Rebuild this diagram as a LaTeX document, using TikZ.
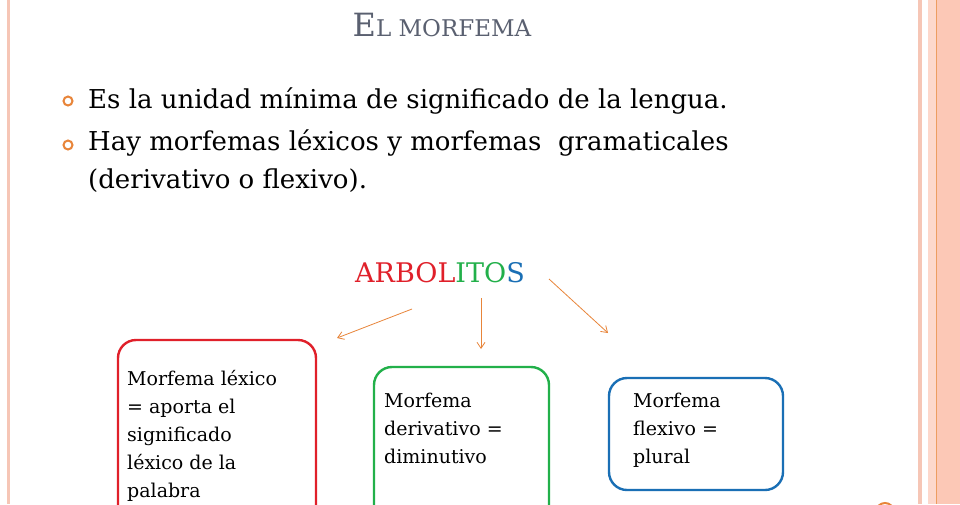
\documentclass[tikz,border=0pt]{standalone}
\usetikzlibrary{arrows.meta}
\usepackage{fontspec}
\setmainfont{DejaVu Serif}
\definecolor{pinkA}{HTML}{F6C6B6}
\definecolor{pinkB}{HTML}{FCC8B6}
\definecolor{orng}{HTML}{E8853A}
\definecolor{ttl}{HTML}{5A6070}
\definecolor{rd}{HTML}{E0202A}
\definecolor{gr}{HTML}{22B04A}
\definecolor{bl}{HTML}{1A6FB5}
\begin{document}
\begin{tikzpicture}[x=1pt,y=-1pt,
  box/.style={rounded corners=18pt,line width=2.4pt},
  btxt/.style={anchor=north west,align=left,font=\fontsize{19}{28}\selectfont,inner sep=0pt},
  arr/.style={orng,line width=0.8pt,-{Straight Barb[length=6pt,width=8pt]}},
  bul/.style={draw=orng,line width=2pt,circle,minimum size=9pt,inner sep=0pt}]
\useasboundingbox (0,0) rectangle (960,504);
\clip (0,0) rectangle (960,504);
\fill[white] (0,0) rectangle (960,504);
% side decorations
\fill[pinkA] (7,0) rectangle (10,504);
\fill[pinkA] (918,0) rectangle (922,504);
\fill[pinkB!70!white] (928,0) rectangle (936,504);
\fill[pinkB] (936,0) rectangle (960,504);
\draw[orng!80,line width=0.8pt] (936.5,0) -- (936.5,504);
\draw[orng,line width=2pt] (885,512) circle (9);
% title
\node[ttl,inner sep=0pt] (title) at (442,25) {\fontsize{32}{32}\selectfont E\fontsize{23}{23}\selectfont L MORFEMA};
% bullets
\node[bul] (b1) at (68,101) {};
\node[bul] (b2) at (68,145) {};
\node[anchor=west,inner sep=0pt,font=\fontsize{26}{32}\selectfont] (t1) at (88,101) {Es la unidad mínima de significado de la lengua.};
\node[anchor=north west,inner sep=0pt,align=left,font=\fontsize{26}{38}\selectfont] (t2) at (88,129) {Hay morfemas léxicos y morfemas\ \ gramaticales\\(derivativo o flexivo).};
% word
\node[font=\fontsize{27}{27}\selectfont,inner sep=0pt] (w) at (440,273) {\textcolor{rd}{ARBOL}\textcolor{gr}{ITO}\textcolor{bl}{S}};
% boxes
\draw[box,rd] (118,340) rectangle (316,530);
\draw[box,gr] (374,367) rectangle (549,530);
\draw[box,bl] (609,378) rectangle (783,490);
\node[btxt] (r) at (127,370) {Morfema léxico\\= aporta el\\significado\\léxico de la\\palabra};
\node[btxt] (g) at (384,393) {Morfema\\derivativo =\\diminutivo};
\node[btxt] (bb) at (633,393) {Morfema\\flexivo =\\plural};
% arrows
\coordinate (a1) at (412,309); \coordinate (e1) at (337,338);
\coordinate (a2) at (481,298); \coordinate (e2) at (481,349);
\coordinate (a3) at (549,279); \coordinate (e3) at (608,333);
\draw[arr] (a1) -- (e1);
\draw[arr] (a2) -- (e2);
\draw[arr] (a3) -- (e3);
\end{tikzpicture}
\end{document}
